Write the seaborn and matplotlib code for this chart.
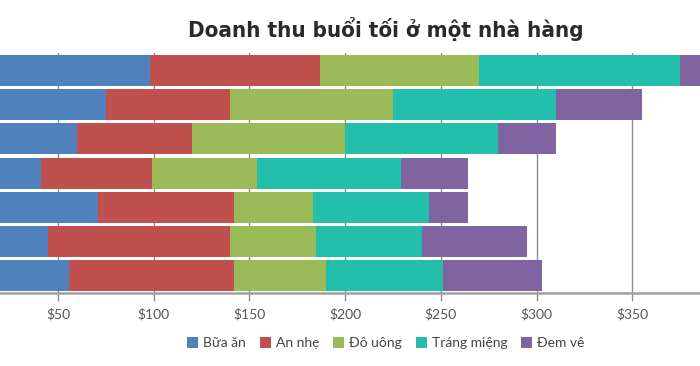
import matplotlib
matplotlib.use("Agg")
import matplotlib.pyplot as plt
from matplotlib.patches import Patch
from matplotlib.ticker import StrMethodFormatter
from matplotlib import font_manager as fm
import seaborn as sns
import pandas as pd

# Data (bottom bar -> top bar)
days = ["30/01", "31/01", "01/02", "02/02", "03/02", "04/02", "05/02"]
bua_an = [56, 45, 71, 41, 60, 75, 98]
an_nhe = [86, 95, 71, 58, 60, 65, 89]
do_uong = [48, 45, 41, 55, 80, 85, 83]
trang_mieng = [61, 55, 61, 75, 80, 85, 105]
dem_ve = [52, 55, 20, 35, 30, 45, 25]
series_names = ["Bữa ăn", "An nhẹ", "Đô uông", "Tráng miệng", "Đem vê"]
colors = ["#4F81BC", "#C0504E", "#9BBB58", "#23BFAA", "#8064A1"]
x_ticks = [50, 100, 150, 200, 250, 300, 350]
title = "Doanh thu buổi tối ở một nhà hàng"

sns.set_style("white")
plt.rcParams['font.family'] = ['Lato', 'DejaVu Sans']

# condensed bold font for the title
cond = [f for f in fm.fontManager.ttflist
        if f.name == "DejaVu Sans" and "Condensed" in f.fname and "Bold" in f.fname
        and "Oblique" not in f.fname]
if cond:
    title_kw = dict(fontproperties=fm.FontProperties(fname=cond[0].fname, size=16))
else:
    title_kw = dict(family=["DejaVu Sans"], fontweight="bold", fontstretch="condensed",
                    fontsize=16)

df = pd.DataFrame({"day": days, "Bữa ăn": bua_an, "An nhẹ": an_nhe,
                   "Đô uông": do_uong, "Tráng miệng": trang_mieng, "Đem vê": dem_ve})
df = df.iloc[::-1].reset_index(drop=True)   # top bar is the last day
cum = df[series_names].cumsum(axis=1)

fig = plt.figure(figsize=(7.0, 3.66), dpi=100)
ax = fig.add_axes([0.0, 0.1995, 1.0, 0.655])

for name, col in reversed(list(zip(series_names, colors))):
    sns.barplot(x=cum[name], y=df["day"], orient="h", color=col, saturation=1,
                width=0.9, linewidth=0, ax=ax, zorder=2)

ax.set_xlim(19.74, 385.3)
ax.set_xticks(x_ticks)
ax.xaxis.set_major_formatter(StrMethodFormatter("${x:.0f}"))
ax.grid(axis="x", color="#8a8a8a", linewidth=1)
ax.grid(axis="y", visible=False)
ax.set_axisbelow(True)
for s in ["top", "right", "left"]:
    ax.spines[s].set_visible(False)
ax.spines["bottom"].set_color("#a0a0a0")
ax.spines["bottom"].set_linewidth(1.8)
ax.tick_params(axis="x", bottom=True, length=6, width=1, color="#8a8a8a",
               labelsize=10, labelcolor="#555555", pad=5)
ax.tick_params(axis="y", left=False, labelleft=False)
ax.set_xlabel("")
ax.set_ylabel("")

fig.text(0.551, 0.8997, title, ha="center", va="baseline", color="#2a2a2a", **title_kw)

handles = [Patch(facecolor=c, edgecolor="none", label=n) for n, c in zip(series_names, colors)]
fig.legend(handles=handles, loc="center", bbox_to_anchor=(0.551, 0.0628), ncol=5,
           frameon=False, fontsize=10, handlelength=0.8, handleheight=0.8,
           handletextpad=0.35, columnspacing=1.0, labelcolor="#444444")

fig.savefig("out.png", dpi=100)
